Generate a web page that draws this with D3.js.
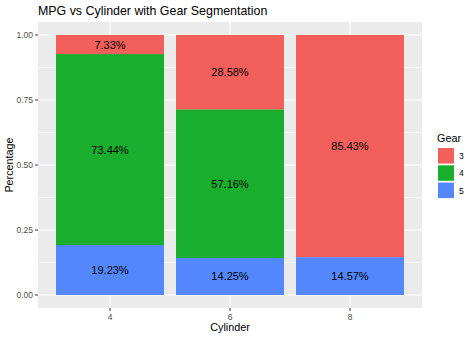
<!DOCTYPE html>
<html><head><meta charset="utf-8">
<script src="https://cdn.jsdelivr.net/npm/d3@7"></script>
<style>body{margin:0;background:#fff}svg{display:block;font-family:"Liberation Sans",Arial,sans-serif}</style>
</head><body><svg id="c" width="474" height="338"></svg>
<script>
const cylinders = ["4", "6", "8"];
const gears = ["3", "4", "5"];
const gear3 = [0.0733, 0.2858, 0.8543];
const gear4 = [0.7344, 0.5716, 0];
const gear5 = [0.1923, 0.1425, 0.1457];
const yTicks = [0, 0.25, 0.5, 0.75, 1];
const colors = ["#F35F5A", "#19AE2E", "#5487FC"];

const svg = d3.select("#c");
const panel = {left: 38, right: 422, top: 22, bottom: 308};

// discrete scale with 0.6-unit expansion on each side (ggplot style)
const step = (panel.right - panel.left) / 3.2;
const x = d3.scalePoint().domain(cylinders)
  .range([panel.left + step*0.6, panel.right - step*0.6]);
const bw = step*0.9;
const y = d3.scaleLinear().domain([-0.05, 1.05]).range([panel.bottom, panel.top]);

svg.append("rect").attr("x", panel.left).attr("y", panel.top)
  .attr("width", panel.right-panel.left).attr("height", panel.bottom-panel.top).attr("fill", "#EBEBEB");
const minor = [0.125, 0.375, 0.625, 0.875];
svg.selectAll(".mg").data(minor).enter().append("line")
  .attr("x1", panel.left).attr("x2", panel.right)
  .attr("y1", d=>y(d)).attr("y2", d=>y(d)).attr("stroke", "#fff").attr("stroke-width", 0.55);
svg.selectAll(".Mg").data(yTicks).enter().append("line")
  .attr("x1", panel.left).attr("x2", panel.right)
  .attr("y1", d=>y(d)).attr("y2", d=>y(d)).attr("stroke", "#fff").attr("stroke-width", 1.1);
svg.selectAll(".xg").data(cylinders).enter().append("line")
  .attr("x1", d=>x(d)).attr("x2", d=>x(d))
  .attr("y1", panel.top).attr("y2", panel.bottom).attr("stroke", "#fff").attr("stroke-width", 1.1);

const rows = cylinders.map((c,i)=>({cyl:c, "5":gear5[i], "4":gear4[i], "3":gear3[i]}));
const series = d3.stack().keys(["5","4","3"])(rows);
const colorOf = g => colors[gears.indexOf(g)];

series.forEach(s=>{
  const g = svg.append("g");
  s.forEach((d,i)=>{
    if (d[1]-d[0] <= 0) return;
    const c = cylinders[i];
    g.append("rect").attr("x", x(c)-bw/2).attr("width", bw)
      .attr("y", y(d[1])).attr("height", y(d[0])-y(d[1])).attr("fill", colorOf(s.key));
  });
});
series.forEach(s=>{
  s.forEach((d,i)=>{
    if (d[1]-d[0] <= 0) return;
    const c = cylinders[i];
    svg.append("text").attr("x", x(c)).attr("y", y((d[0]+d[1])/2))
      .attr("text-anchor","middle").attr("dominant-baseline","central")
      .attr("font-size", 11).attr("fill","#000")
      .text(d3.format(".2f")((d[1]-d[0])*100) + "%");
  });
});

const ya = svg.append("g");
yTicks.forEach(t=>{
  ya.append("line").attr("x1", panel.left-3).attr("x2", panel.left).attr("y1", y(t)).attr("y2", y(t)).attr("stroke","#333").attr("stroke-width",1);
  ya.append("text").attr("x", panel.left-5).attr("y", y(t)).attr("text-anchor","end")
    .attr("dominant-baseline","central").attr("font-size", 8.5).attr("fill","#4D4D4D").text(d3.format(".2f")(t));
});
cylinders.forEach(c=>{
  svg.append("line").attr("x1", x(c)).attr("x2", x(c)).attr("y1", panel.bottom).attr("y2", panel.bottom+3).attr("stroke","#333");
  svg.append("text").attr("x", x(c)).attr("y", panel.bottom+12).attr("text-anchor","middle")
    .attr("font-size", 8.5).attr("fill","#4D4D4D").text(c);
});
svg.append("text").attr("x", (panel.left+panel.right)/2).attr("y", 331).attr("text-anchor","middle")
  .attr("font-size", 10.8).attr("fill","#000").text("Cylinder");
svg.append("text").attr("transform", `translate(13,${(panel.top+panel.bottom)/2}) rotate(-90)`)
  .attr("text-anchor","middle").attr("font-size", 10.8).attr("fill","#000").text("Percentage");
svg.append("text").attr("x", panel.left).attr("y", 15).attr("font-size", 12.4).attr("fill","#000")
  .text("MPG vs Cylinder with Gear Segmentation");

const lg = svg.append("g");
lg.append("text").attr("x", 437).attr("y", 142).attr("font-size", 10.8).attr("fill","#000").text("Gear");
gears.forEach((g,i)=>{
  const yy = 148 + i*17.3;
  lg.append("rect").attr("x", 438).attr("y", yy).attr("width", 16).attr("height", 15.5).attr("fill", colors[i]);
  lg.append("text").attr("x", 459).attr("y", yy+8).attr("dominant-baseline","central")
    .attr("font-size", 8.5).attr("fill","#000").text(g);
});
</script></body></html>
